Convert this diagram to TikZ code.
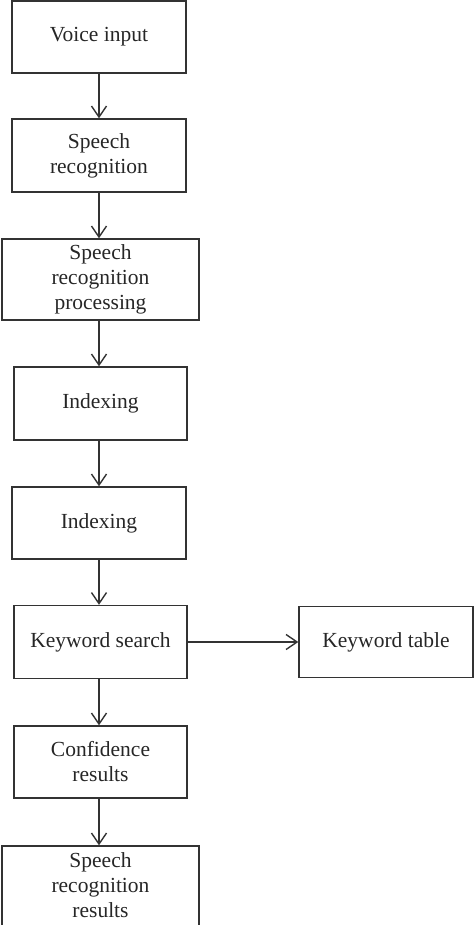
\documentclass[tikz,border=0pt]{standalone}
\usepackage{fontspec}
\setmainfont{Liberation Serif}
\usetikzlibrary{arrows.meta}
\definecolor{ln}{HTML}{333333}
\begin{document}
\begin{tikzpicture}[x=1pt,y=-1pt,
  box/.style={draw=ln,line width=1.4pt,rectangle,inner sep=0pt,align=center,
    font=\fontsize{21.5}{25}\selectfont,text=black!85},
  arr/.style={draw=ln,line width=1.4pt,-{Straight Barb[length=11pt,width=15pt,line width=1.4pt]}}]
\useasboundingbox (0,0) rectangle (474,925);
\node[box,minimum width=174pt,minimum height=72pt] (a) at (99,37) {Voice input};
\node[box,minimum width=174pt,minimum height=73pt] (b) at (99,155.5) {Speech\\recognition};
\node[box,minimum width=197pt,minimum height=81pt] (c) at (100.5,279.5) {Speech\\recognition\\processing};
\node[box,minimum width=173pt,minimum height=73pt] (d) at (100.5,403.5) {Indexing};
\node[box,minimum width=174pt,minimum height=72pt] (e) at (99,523) {Indexing};
\node[box,minimum width=173pt,minimum height=73pt] (f) at (100.5,642) {Keyword search};
\node[box,minimum width=173pt,minimum height=72pt] (g) at (100.5,762) {Confidence\\results};
\node[box,minimum width=197pt,minimum height=86pt] (h) at (100.5,889) {};
\node[font=\fontsize{21.5}{25}\selectfont,text=black!85,align=center,inner sep=0pt] (ht) at (100.5,885) {Speech\\recognition\\results};
\node[box,minimum width=174pt,minimum height=71pt] (k) at (386,642) {Keyword table};
\draw[arr] (a.south -| 99,0) -- (b.north -| 99,0);
\draw[arr] (b.south -| 99,0) -- (c.north -| 99,0);
\draw[arr] (c.south -| 99,0) -- (d.north -| 99,0);
\draw[arr] (d.south -| 99,0) -- (e.north -| 99,0);
\draw[arr] (e.south -| 99,0) -- (f.north -| 99,0);
\draw[arr] (f.south -| 99,0) -- (g.north -| 99,0);
\draw[arr] (g.south -| 99,0) -- (h.north -| 99,0);
\draw[arr] (f.east) -- (k.west);
\end{tikzpicture}
\end{document}
